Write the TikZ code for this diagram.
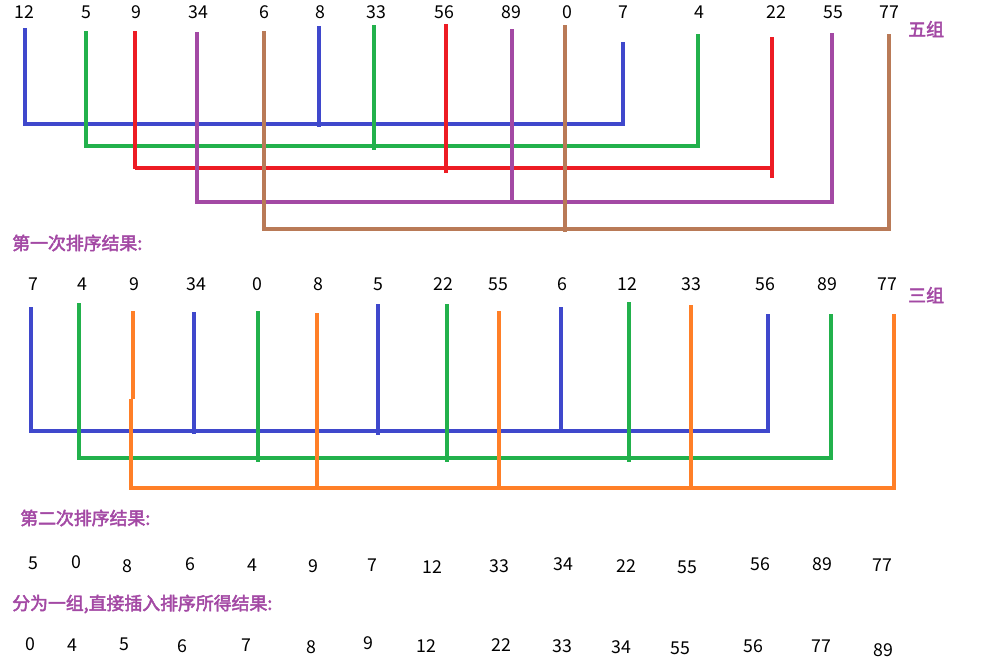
\documentclass[tikz,border=0pt]{standalone}
\usepackage{fontspec}
\setmainfont{Noto Sans CJK SC}
\newfontfamily\cjkb{Noto Sans CJK SC}[AutoFakeBold=2.6]
\definecolor{cblue}{RGB}{63,72,204}
\definecolor{cgreen}{RGB}{34,177,76}
\definecolor{cred}{RGB}{237,28,36}
\definecolor{cpurple}{RGB}{163,73,164}
\definecolor{cbrown}{RGB}{185,122,87}
\definecolor{corange}{RGB}{255,127,39}
\definecolor{ctitle}{RGB}{163,73,164}
\begin{document}
\begin{tikzpicture}[x=0.75pt,y=-0.75pt,
  num/.style={inner sep=0pt,font=\fontsize{13.3}{14}\selectfont},
  title/.style={inner sep=0pt,anchor=west,text=ctitle,font=\cjkb\bfseries\fontsize{13.4}{14}\selectfont},
  grp/.style={line width=3pt,line join=miter}]
\useasboundingbox (0,0) rectangle (992,664);
% ---------- row 1 labels
\foreach \v/\x/\n in {12/24/a1,5/86/a2,9/136/a3,34/198/a4,6/264/a5,8/320/a6,33/376/a7,56/444/a8,89/511/a9,0/567/a10,7/623/a11,4/699/a12,22/776/a13,55/833/a14,77/889/a15}
  \node[num] (\n) at (\x,12) {\v};
\node[title] (t5) at (908,29) {五组};
% ---------- row 1 groups
\draw[grp,cblue] (25,28) -- (25,124) -- (623,124) -- (623,42);
\draw[grp,cblue] (319,26) -- (319,127);
\draw[grp,cgreen] (86,31) -- (86,146) -- (698,146) -- (698,34);
\draw[grp,cgreen] (374,25) -- (374,150);
\draw[grp,cred] (135,31) -- (135,169);
\draw[grp,cred] (135,168) -- (772,168);
\draw[grp,cred] (446,24) -- (446,173);
\draw[grp,cred] (772,37) -- (772,178);
\draw[grp,cpurple] (197,32) -- (197,202) -- (832,202) -- (832,33);
\draw[grp,cpurple] (512,29) -- (512,202);
\draw[grp,cbrown] (264,31) -- (264,229) -- (889,229) -- (889,34);
\draw[grp,cbrown] (565,25) -- (565,232);
\node[title] (r1) at (12,243) {第一次排序结果:};
% ---------- row 2 labels
\foreach \v/\x/\n in {7/33/b1,4/82/b2,9/134/b3,34/196/b4,0/257/b5,8/318/b6,5/378/b7,22/443/b8,55/498/b9,6/562/b10,12/627/b11,33/691/b12,56/765/b13,89/827/b14,77/887/b15}
  \node[num] (\n) at (\x,284) {\v};
\node[title] (t3) at (908,295) {三组};
% ---------- row 2 groups
\draw[grp,cblue] (31,307) -- (31,431) -- (768,431) -- (768,314);
\draw[grp,cblue] (194,312) -- (194,434);
\draw[grp,cblue] (378,304) -- (378,435);
\draw[grp,cblue] (561,307) -- (561,431);
\draw[grp,cgreen] (79,303) -- (79,458) -- (831,458) -- (831,314);
\draw[grp,cgreen] (258,311) -- (258,462);
\draw[grp,cgreen] (447,304) -- (447,462);
\draw[grp,cgreen] (629,302) -- (629,462);
\draw[grp,corange] (133,311) -- (133,399);
\draw[grp,corange] (131,399) -- (131,488) -- (894,488) -- (894,314);
\draw[grp,corange] (317,313) -- (317,490);
\draw[grp,corange] (499,311) -- (499,488);
\draw[grp,corange] (691,305) -- (691,488);
\node[title] (r2) at (20,518) {第二次排序结果:};
% ---------- row 3
\foreach \v/\x/\y/\n in {5/33/563/c1,0/76/562/c2,8/127/566/c3,6/190/564/c4,4/252/565/c5,9/313/566/c6,7/372/565/c7,12/432/567/c8,33/499/566/c9,34/563/564/c10,22/626/566/c11,55/687/567/c12,56/760/564/c13,89/822/564/c14,77/882/565/c15}
  \node[num] (\n) at (\x,\y) {\v};
\node[title] (r3) at (12,604) {分为一组,直接插入排序所得结果:};
% ---------- row 4
\foreach \v/\x/\y/\n in {0/30/644/d1,4/72/645/d2,5/124/644/d3,6/182/646/d4,7/246/645/d5,8/311/647/d6,9/368/643/d7,12/426/646/d8,22/501/645/d9,33/562/646/d10,34/621/647/d11,55/680/648/d12,56/753/646/d13,77/821/646/d14,89/883/650/d15}
  \node[num] (\n) at (\x,\y) {\v};
\end{tikzpicture}
\end{document}
